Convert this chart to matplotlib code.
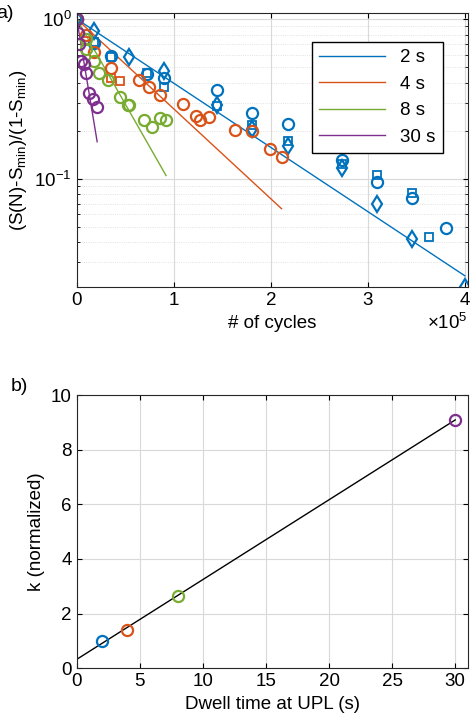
import numpy as np
import matplotlib.pyplot as plt
from matplotlib.ticker import ScalarFormatter

C_BLUE, C_ORANGE, C_GREEN, C_PURPLE = '#0072BD', '#D95319', '#77AC30', '#7E2F8E'

# panel a) data, x in cycles (x 1e5)
b_circ_x = np.array([0, 0.35, 0.72, 0.90, 1.45, 1.81, 2.18, 2.73, 3.09, 3.45, 3.81, 0.18]) * 1e5
b_circ_y = [1.0, 0.588, 0.451, 0.430, 0.359, 0.259, 0.222, 0.132, 0.096, 0.076, 0.049, 0.713]
b_sq_x = np.array([0, 0.18, 0.35, 0.72, 0.90, 1.45, 1.81, 2.18, 2.73, 3.09, 3.45, 3.63]) * 1e5
b_sq_y = [1.0, 0.72, 0.582, 0.458, 0.377, 0.285, 0.216, 0.172, 0.124, 0.105, 0.082, 0.043]
b_dia_x = np.array([0, 0.18, 0.54, 0.90, 1.45, 1.81, 2.18, 2.73, 3.09, 3.45, 4.0]) * 1e5
b_dia_y = [1.0, 0.836, 0.579, 0.473, 0.288, 0.204, 0.160, 0.117, 0.070, 0.042, 0.021]

o_circ_x = np.array([0, 0.10, 0.18, 0.35, 0.64, 0.74, 0.86, 1.09, 1.23, 1.27, 1.36, 1.63, 1.81, 1.99, 2.11]) * 1e5
o_circ_y = [1.0, 0.793, 0.626, 0.492, 0.416, 0.377, 0.333, 0.292, 0.247, 0.235, 0.244, 0.201, 0.198, 0.154, 0.138]
o_sq_x = np.array([0.10, 0.35, 0.45]) * 1e5
o_sq_y = [0.731, 0.430, 0.409]

g_circ_x = np.array([0, 0.09, 0.09, 0.175, 0.23, 0.32, 0.45, 0.53, 0.54, 0.69, 0.78, 0.86, 0.92]) * 1e5
g_circ_y = [1.0, 0.748, 0.648, 0.547, 0.458, 0.416, 0.326, 0.288, 0.288, 0.235, 0.212, 0.240, 0.232]

p_circ_x = np.array([0, 0.01, 0.02, 0.045, 0.07, 0.10, 0.13, 0.17, 0.21]) * 1e5
p_circ_y = [1.0, 0.824, 0.696, 0.547, 0.521, 0.458, 0.343, 0.314, 0.282]

# fitted decay: y = exp(-k0 * k_norm * N)
k0 = 0.925e-5
dwell = np.array([2, 4, 8, 30])
k_norm = np.array([1.0, 1.4, 2.65, 9.1])
fit_end = np.array([4.0, 2.11, 0.92, 0.21]) * 1e5
colors = [C_BLUE, C_ORANGE, C_GREEN, C_PURPLE]
labels = ['2 s', '4 s', '8 s', '30 s']

plt.rcParams['font.family'] = 'Liberation Sans'
plt.rcParams['mathtext.fontset'] = 'custom'
plt.rcParams['mathtext.rm'] = 'Liberation Sans'
plt.rcParams['font.size'] = 13.5

fig = plt.figure(figsize=(4.74, 7.27), dpi=100)
ax1 = fig.add_axes([0.162, 0.605, 0.825, 0.377])
ax2 = fig.add_axes([0.162, 0.081, 0.825, 0.3755])

mk = dict(fillstyle='none', linestyle='none', markersize=8, markeredgewidth=1.6)
for i in range(4):
    xs = np.linspace(0, fit_end[i], 50)
    ax1.plot(xs, np.exp(-k0 * k_norm[i] * xs), color=colors[i], lw=1, label=labels[i])
ax1.plot(b_circ_x, b_circ_y, 'o', color=C_BLUE, **mk)
ax1.plot(b_sq_x, b_sq_y, 's', color=C_BLUE, **dict(mk, markersize=5.5, markeredgewidth=1.3))
ax1.plot(b_dia_x, b_dia_y, 'd', color=C_BLUE, **mk)
ax1.plot(o_circ_x, o_circ_y, 'o', color=C_ORANGE, **mk)
ax1.plot(o_sq_x, o_sq_y, 's', color=C_ORANGE, **dict(mk, markersize=5.5, markeredgewidth=1.3))
ax1.plot(g_circ_x, g_circ_y, 'o', color=C_GREEN, **mk)
ax1.plot(p_circ_x, p_circ_y, 'o', color=C_PURPLE, **mk)

ax1.set_yscale('log')
ax1.set_xlim(0, 4.03e5)
ax1.set_ylim(0.021, 1.09)
ax1.set_xticks([0, 1e5, 2e5, 3e5, 4e5])
fmt = ScalarFormatter(useMathText=True)
fmt.set_powerlimits((0, 0))
ax1.xaxis.set_major_formatter(fmt)
ax1.grid(True, which='major', color='#d9d9d9', lw=0.8)
ax1.grid(True, which='minor', color='#d9d9d9', lw=0.6, ls=':')
ax1.set_xlabel('# of cycles')
ax1.set_ylabel('(S(N)-S$_{\\mathrm{min}}$)/(1-S$_{\\mathrm{min}}$)')
ax1.legend(loc='upper right', bbox_to_anchor=(0.96, 0.93), fancybox=False,
           edgecolor='black', framealpha=1, handlelength=3.5, fontsize=13.5)
ax1.text(-0.205, 1.0, 'a)', transform=ax1.transAxes, fontsize=14, va='center')

# panel b)
coef = np.polyfit(dwell, k_norm, 1)
xs = np.array([0, 30])
ax2.plot(xs, np.polyval(coef, xs), color='black', lw=1)
for i in range(4):
    ax2.plot(dwell[i], k_norm[i], 'o', color=colors[i], **mk)
ax2.set_xlim(0, 31)
ax2.set_ylim(0, 10)
ax2.set_xticks(range(0, 31, 5))
ax2.set_yticks(range(0, 11, 2))
ax2.grid(True, color='#d9d9d9', lw=0.8)
ax2.set_xlabel('Dwell time at UPL (s)')
ax2.set_ylabel('k (normalized)')
ax2.text(-0.17, 1.03, 'b)', transform=ax2.transAxes, fontsize=14, va='center')

for ax in (ax1, ax2):
    ax.set_axisbelow(True)
    ax.tick_params(direction='in', which='both', top=True, right=True)
    for s in ax.spines.values():
        s.set_color('#262626')

fig.savefig('out.png', dpi=100)
